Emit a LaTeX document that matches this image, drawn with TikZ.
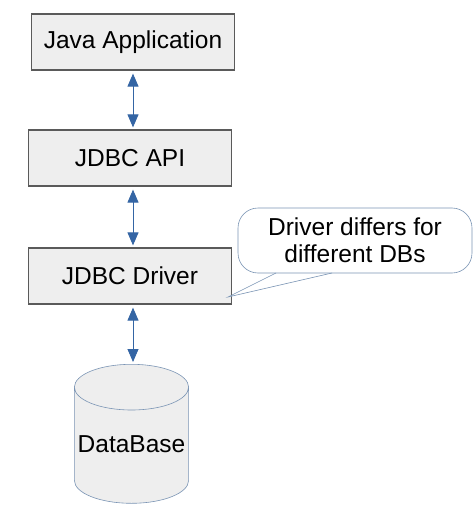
\documentclass[tikz,border=0pt]{standalone}
\usepackage{fontspec}
\setmainfont{Liberation Sans}
\usetikzlibrary{arrows.meta,shapes.geometric}
\definecolor{boxfill}{HTML}{EEEEEE}
\definecolor{boxline}{HTML}{5A5A5A}
\definecolor{arrowblue}{HTML}{3465A4}
\definecolor{noteline}{HTML}{7A94B4}
\begin{document}
\begin{tikzpicture}[x=1pt,y=-1pt,
  every node/.style={font=\fontsize{24.5}{27}\selectfont},
  layer/.style={draw=boxline,line width=1.2pt,fill=boxfill,minimum width=203pt,minimum height=56pt},
  link/.style={draw=arrowblue,line width=0.9pt,{Triangle[width=11pt,length=13pt]}-{Triangle[width=11pt,length=13pt]},shorten <=3pt,shorten >=2pt},
  store/.style={cylinder,shape border rotate=90,aspect=0.4,draw=noteline,line width=0.6pt,fill=boxfill,minimum width=113pt,minimum height=139pt},
  note/.style={draw=noteline,line width=0.6pt,fill=white,rounded corners=20pt,minimum width=234pt,minimum height=65pt,align=center}]
  \useasboundingbox (0,0) rectangle (474,513);
  \node[layer] (java) at (133,42) {Java Application};
  \node[layer] (api) at (130,158) {JDBC API};
  \node[layer] (driver) at (130,276) {JDBC Driver};
  \node[store,anchor=north] (db) at (131.5,364) {\raisebox{5pt}[\height][\depth]{DataBase}};
  \node[note] (note) at (355,240.5) {Driver differs for\\different DBs};
  \coordinate (tip) at (228,297);
  \coordinate (b1) at (276,273);
  \coordinate (b2) at (332,273);
  \path[link] (java.south) -- (java.south |- api.north);
  \path[link] (java.south |- api.south) -- (java.south |- driver.north);
  \path[link] (java.south |- driver.south) -- (java.south |- db.north);
  \fill[white] ([yshift=-1.5pt]b1) -- (tip) -- ([yshift=-1.5pt]b2) -- cycle;
  \draw[noteline,line width=0.6pt] (b1) -- (tip) -- (b2);
\end{tikzpicture}
\end{document}
